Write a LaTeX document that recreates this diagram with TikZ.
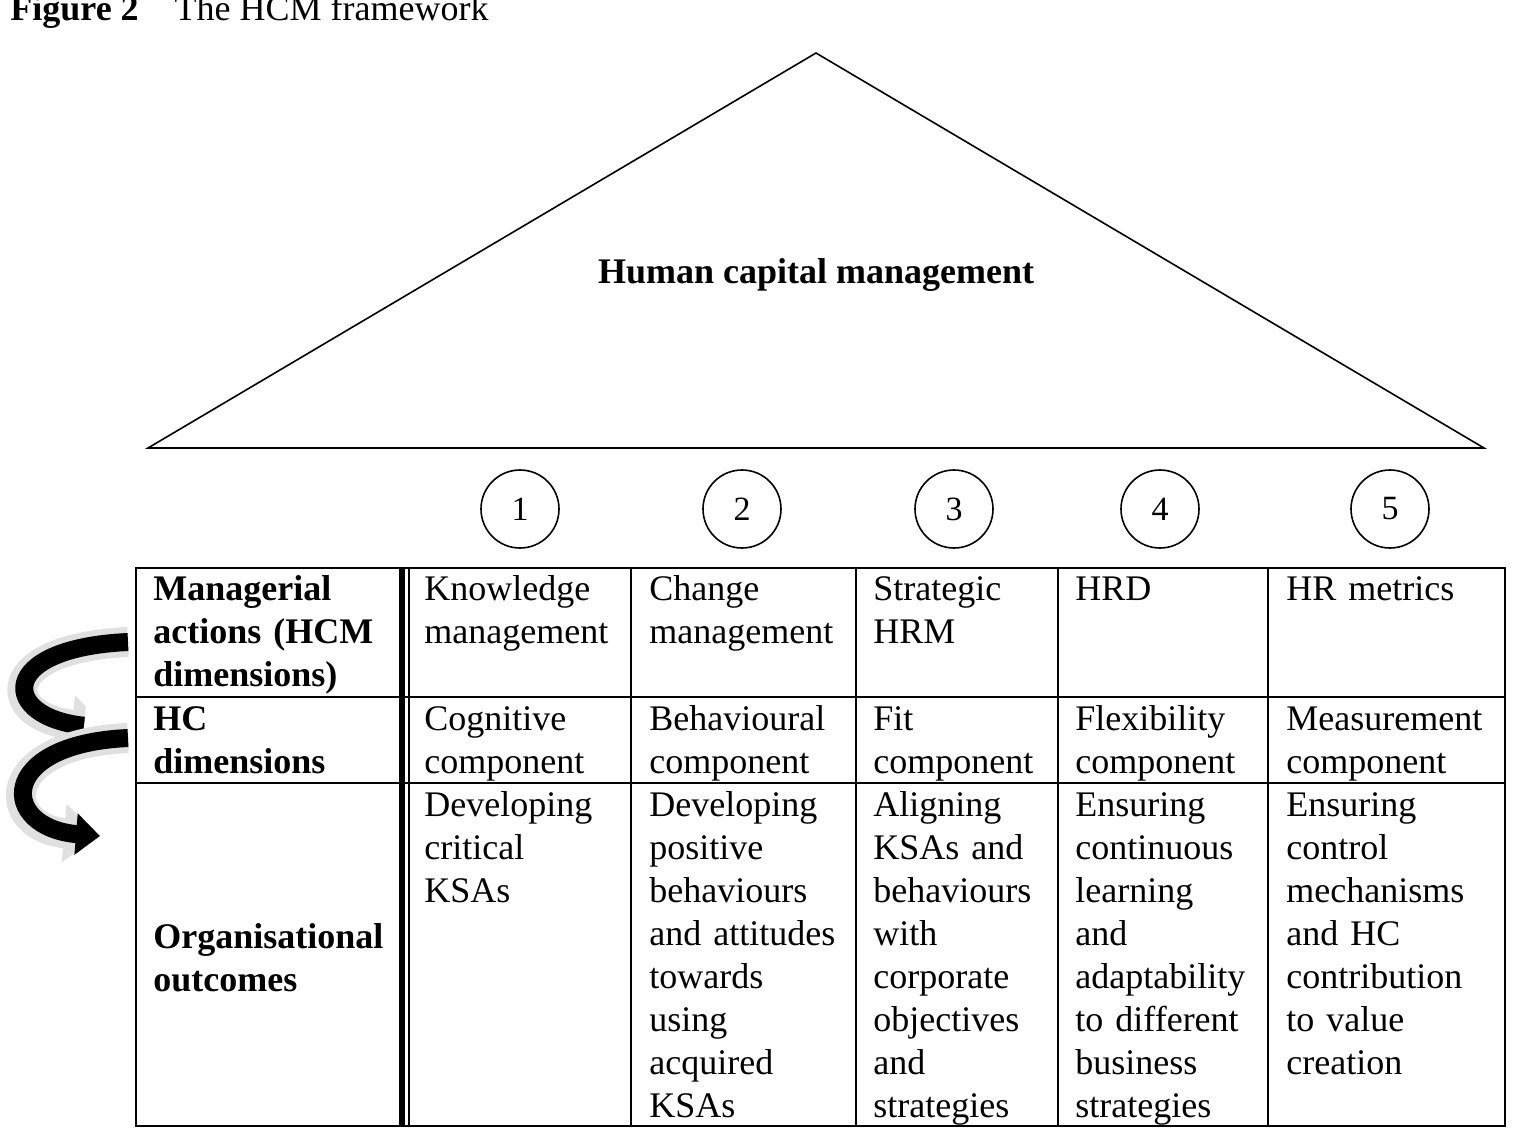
\documentclass[tikz,border=0pt]{standalone}
\usepackage{fontspec}
\setmainfont{Liberation Serif}
\usetikzlibrary{arrows.meta}

\begin{document}
\begin{tikzpicture}[x=0.5pt,y=-0.5pt,
    cell/.style={anchor=north west,align=left,inner sep=0pt,text width=112pt,font=\fontsize{18}{21.5}\selectfont,execute at begin node=\strut},
    head/.style={cell,font=\fontsize{18}{21.5}\selectfont\bfseries},
    num node/.style={circle,draw,thick,minimum size=39pt,inner sep=0pt,font=\fontsize{17}{19}\selectfont},
    twist rim/.style={line width=15pt,black!12},
    twist core/.style={line width=9pt,black}]
  \useasboundingbox (0,0) rectangle (1522,1147);

  \node[anchor=base west,inner sep=0pt,font=\fontsize{18}{20}\selectfont] (cap) at (10,20) {\textbf{Figure 2}\quad The HCM framework};

  % roof
  \coordinate (tl) at (148,448);
  \coordinate (tt) at (816,53);
  \coordinate (tr) at (1484,448);
  \draw[thick] (tl) -- (tt) -- (tr) -- cycle;
  \node[font=\fontsize{18}{20}\selectfont\bfseries] (hcm) at (816,275) {Human capital management};

  % numbers
  \foreach \n/\x in {1/520,2/742,3/954,4/1160,5/1390}
    \node[num node] (n\n) at (\x,509) {\n};

  % table
  \draw[thick] (136,568) rectangle (1505,1126);
  \foreach \y in {697,783} \draw[thick] (136,\y) -- (1505,\y);
  \foreach \x in {631,856,1058,1268} \draw[thick] (\x,568) -- (\x,1126);
  \draw[line width=3pt] (402,568) -- (402,1126);
  \draw[thick] (409,568) -- (409,1126);

  \node[head] (r1) at (153,570) {Managerial\\actions (HCM\\dimensions)};
  \node[head] (r2) at (153,700) {HC\\dimensions};
  \node[head,anchor=west] (r3) at (153,955) {Organisational\\outcomes};

  \node[cell] (a1) at (424,570) {Knowledge\\management};
  \node[cell] (a2) at (649,570) {Change\\management};
  \node[cell] (a3) at (873,570) {Strategic\\HRM};
  \node[cell] (a4) at (1075,570) {HRD};
  \node[cell] (a5) at (1286,570) {HR metrics};

  \node[cell] (b1) at (424,700) {Cognitive\\component};
  \node[cell] (b2) at (649,700) {Behavioural\\component};
  \node[cell] (b3) at (873,700) {Fit\\component};
  \node[cell] (b4) at (1075,700) {Flexibility\\component};
  \node[cell] (b5) at (1286,700) {Measurement\\component};

  \node[cell] (c1) at (424,786) {Developing\\critical\\KSAs};
  \node[cell] (c2) at (649,786) {Developing\\positive\\behaviours\\and attitudes\\towards\\using\\acquired\\KSAs};
  \node[cell] (c3) at (873,786) {Aligning\\KSAs and\\behaviours\\with\\corporate\\objectives\\and\\strategies};
  \node[cell] (c4) at (1075,786) {Ensuring\\continuous\\learning\\and\\adaptability\\to different\\business\\strategies};
  \node[cell] (c5) at (1286,786) {Ensuring\\control\\mechanisms\\and HC\\contribution\\to value\\creation};

  % twisting arrows
  \coordinate (s1) at (128,642);
  \coordinate (e1) at (108,728);
  \coordinate (s2) at (128,738);
  \coordinate (e2) at (100,836);
  \draw[twist rim,-{Triangle[length=18pt,width=28pt]}] (s1) .. controls (-5,648) and (0,718) .. (e1);
  \draw[twist core,-{Triangle[length=12pt,width=20pt,color=white]}] (s1) .. controls (-5,648) and (0,718) .. (e1);
  \draw[twist rim,-{Triangle[length=18pt,width=28pt]}] (s2) .. controls (-5,744) and (0,828) .. (e2);
  \draw[twist core,-{Triangle[length=12pt,width=20pt]}] (s2) .. controls (-5,744) and (0,828) .. (e2);
\end{tikzpicture}
\end{document}
